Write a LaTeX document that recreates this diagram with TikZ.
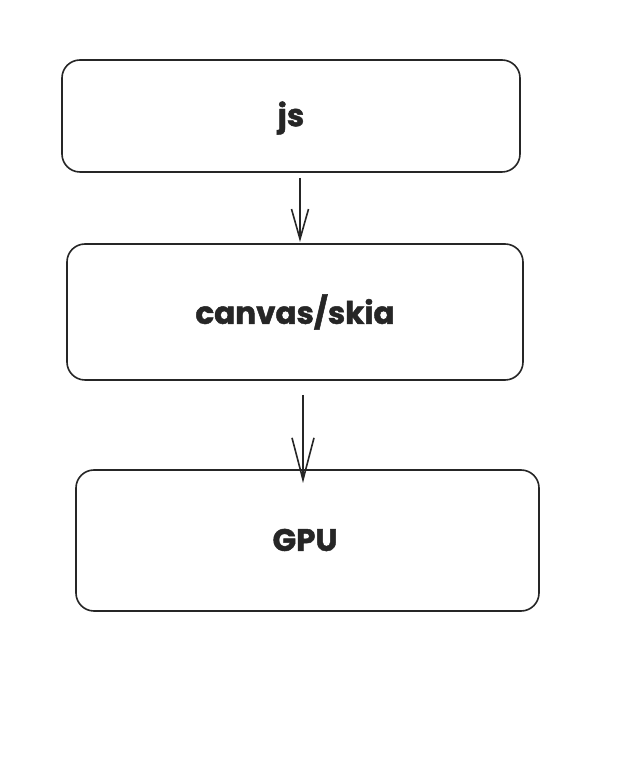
\documentclass[tikz,border=0pt]{standalone}
\usepackage{fontspec}
\setmainfont{Poppins}[FakeBold=1.5]
\usetikzlibrary{arrows.meta}
\begin{document}
\begin{tikzpicture}[x=1pt,y=1pt,
  boxst/.style={draw=black!85,line width=1.6pt,rounded corners=18pt},
  lbl/.style={font=\fontsize{31}{34}\selectfont\bfseries,text=black!85},
  arr/.style={draw=black!85,line width=1.6pt,-{Straight Barb[length=30pt,width=17pt]}},
  arrb/.style={draw=black!85,line width=1.6pt,-{Straight Barb[length=42pt,width=22pt]}}]
\useasboundingbox (0,0) rectangle (620,766);
\fill[white] (0,0) rectangle (620,766);
\draw[boxst] (62,594) rectangle (520,706);
\draw[boxst] (67,386) rectangle (523,522);
\draw[boxst] (76,155) rectangle (539,296);
\node[lbl] (js) at (291,648) {js};
\node[lbl] (cs) at (295,454) {canvas/skia};
\node[lbl] (gpu) at (305,226) {GPU};
\coordinate (a1s) at (300,588);
\coordinate (a1e) at (300,524);
\coordinate (a2s) at (303,371);
\coordinate (a2e) at (303,283);
\draw[arr] (a1s) -- (a1e);
\draw[arrb] (a2s) -- (a2e);
\end{tikzpicture}
\end{document}
